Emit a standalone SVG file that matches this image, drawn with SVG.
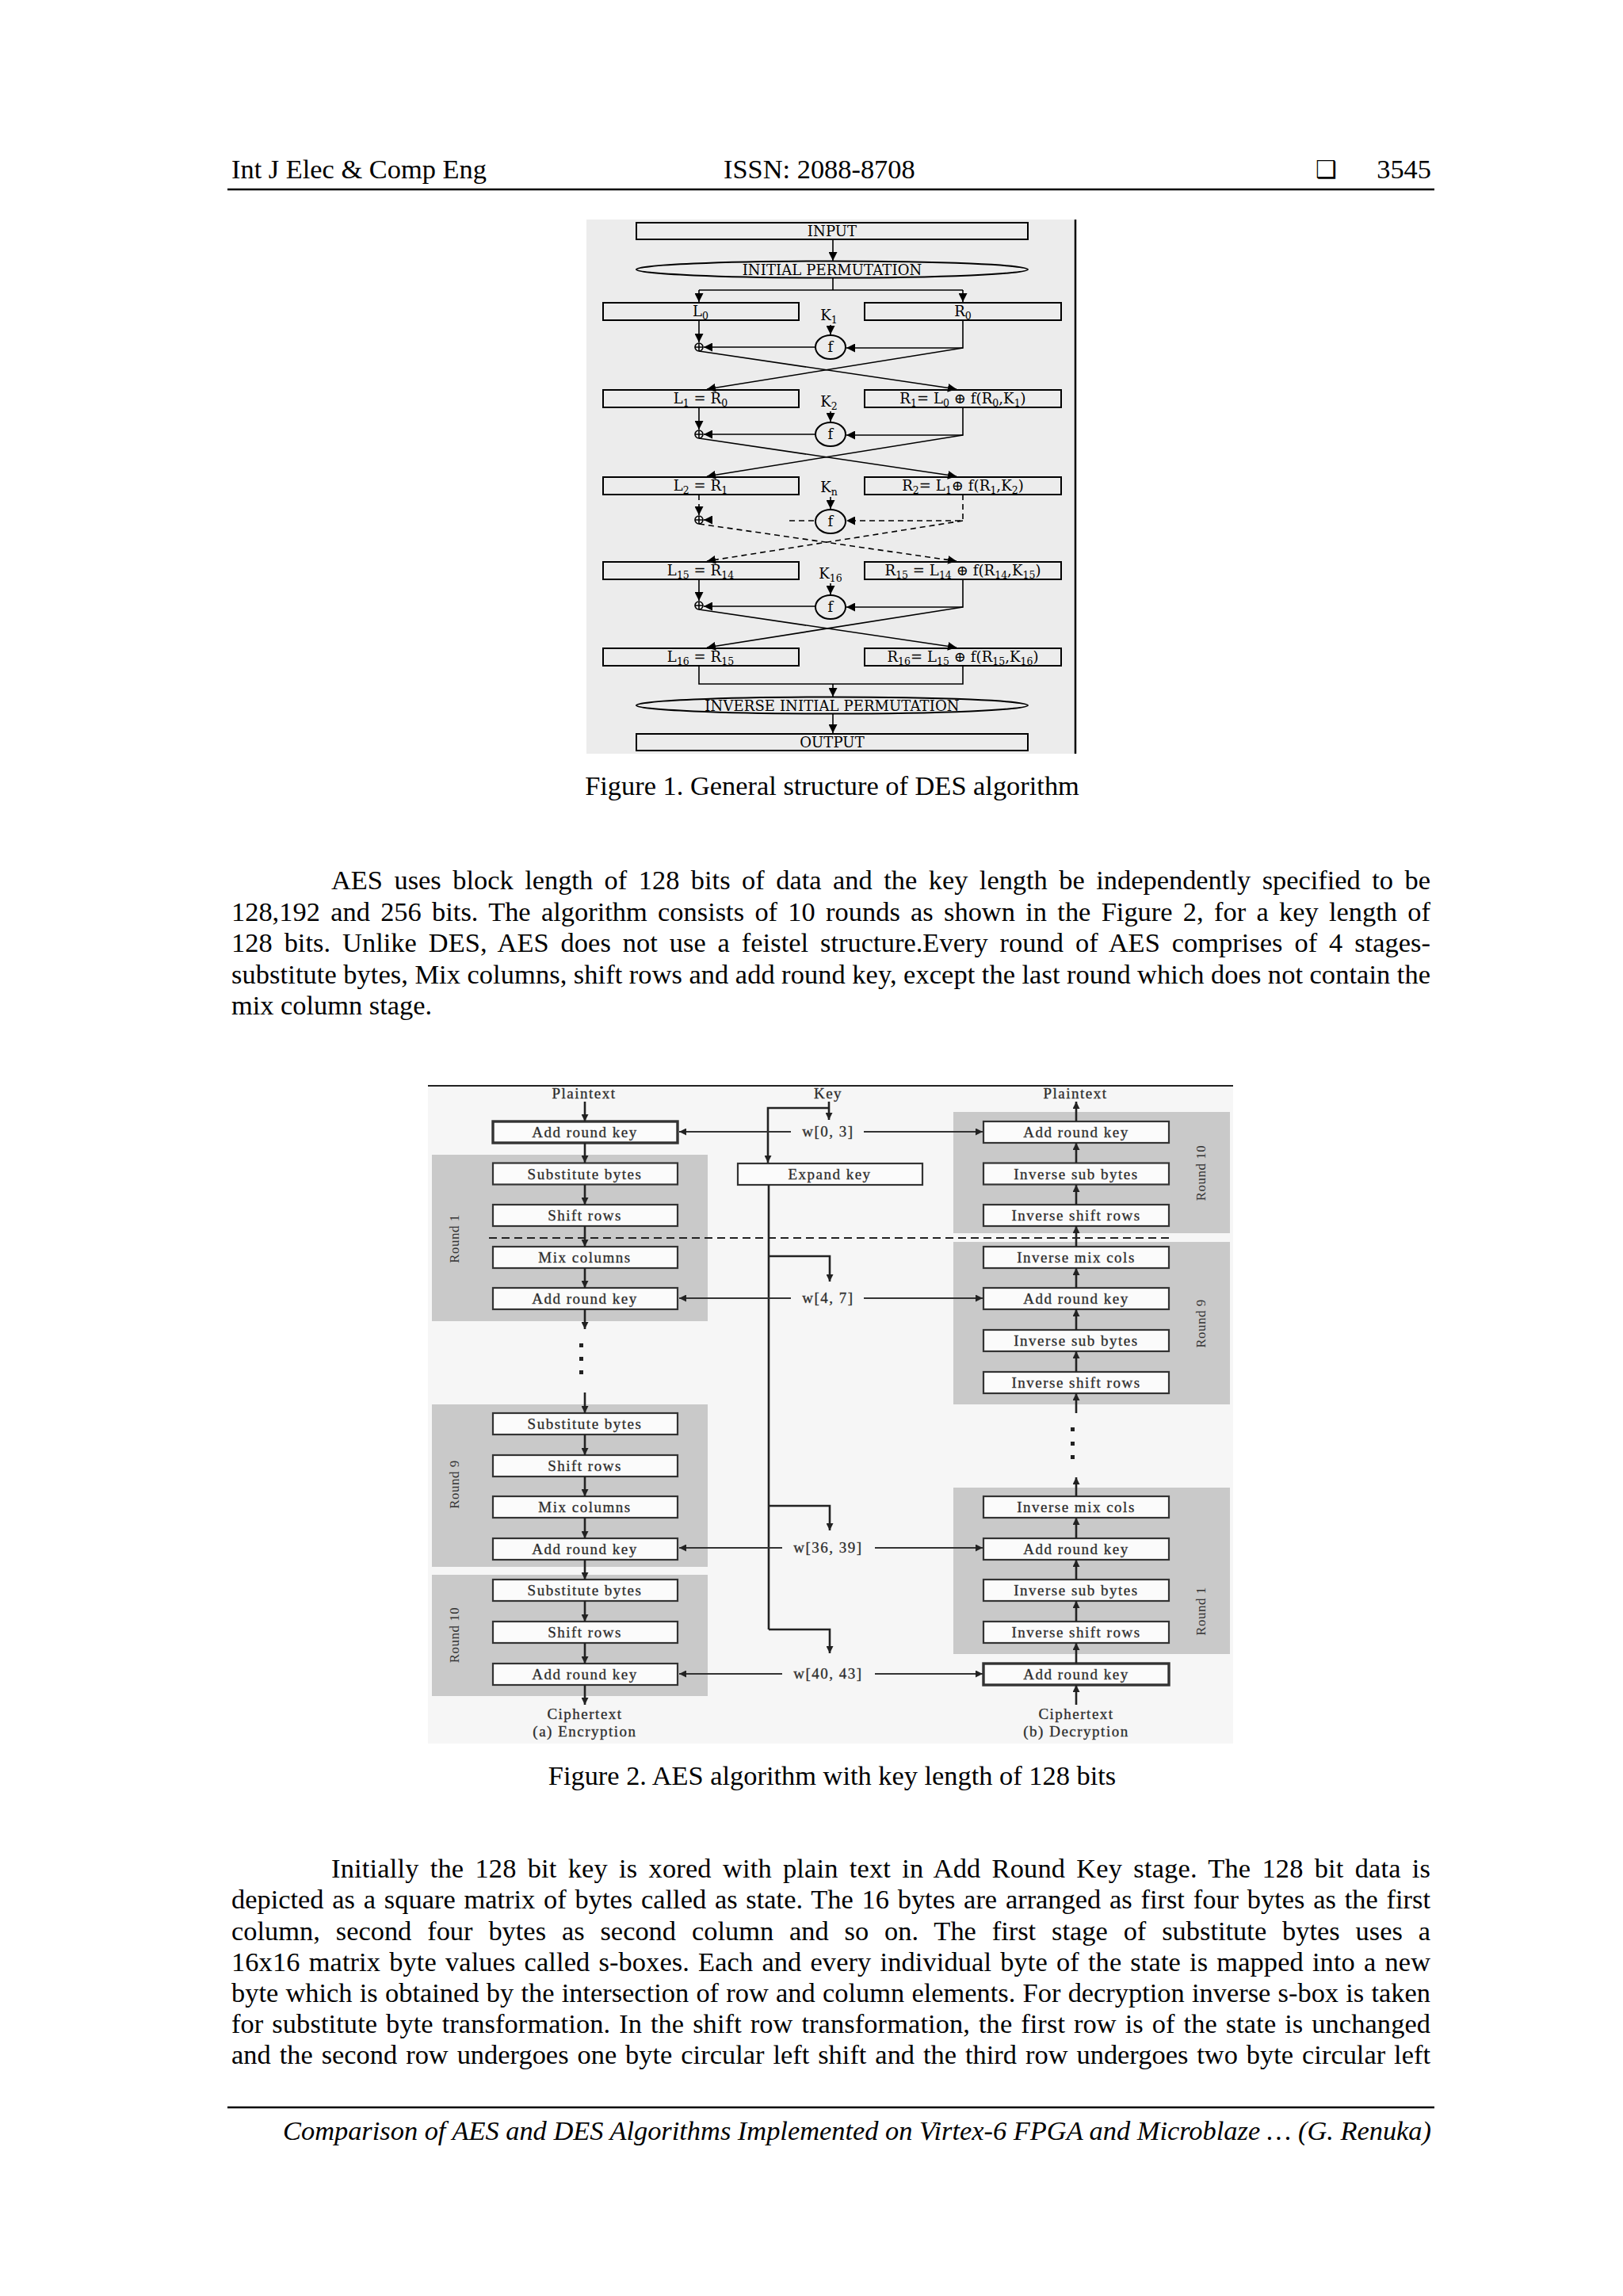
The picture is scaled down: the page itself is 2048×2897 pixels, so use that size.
<svg xmlns="http://www.w3.org/2000/svg" width="2048" height="2897" viewBox="0 0 2048 2897">
<defs>
<style>
.body{font-family:"Liberation Serif","Times New Roman",serif;font-size:34.4px;fill:#000}
.it{font-style:italic}
.f1{font-family:"DejaVu Serif",serif;font-size:18px;fill:#000;text-anchor:middle;letter-spacing:0.1px}
.sb{font-size:12.5px;letter-spacing:0}
.f2{font-family:"Liberation Serif",serif;font-size:19px;fill:#262626;text-anchor:middle;letter-spacing:1.5px;stroke:#444;stroke-width:0.35px}
.rl{font-family:"Liberation Serif",serif;font-size:17px;fill:#333;text-anchor:middle;letter-spacing:0.5px}
.box1{fill:none;stroke:#000;stroke-width:2}
.ln1{fill:none;stroke:#000;stroke-width:1.6}
.d1{stroke-dasharray:7 5}
.box2{fill:#fbfbfb;stroke:#333;stroke-width:2.2}
.thick{stroke-width:3.4}
.ln2{fill:none;stroke:#222;stroke-width:2.6}
.ln2t{fill:none;stroke:#333;stroke-width:1.8}
.gray{fill:#c9c9c9}
</style>
<marker id="a1" viewBox="0 0 10 10" refX="10" refY="5" markerWidth="11" markerHeight="11" markerUnits="userSpaceOnUse" orient="auto"><path d="M0,0L10,5L0,10z" fill="#000"/></marker>
<marker id="a2" viewBox="0 0 10 10" refX="10" refY="5" markerWidth="10" markerHeight="9" markerUnits="userSpaceOnUse" orient="auto"><path d="M0,0L10,5L0,10z" fill="#222"/></marker>
</defs>
<rect width="2048" height="2897" fill="#fff"/>

<!-- Header -->
<g id="header">
<text class="body" x="292" y="225">Int J Elec &amp; Comp Eng</text>
<text class="body" x="913" y="225">ISSN: 2088-8708</text>
<text x="1660" y="224" style="font-family:'DejaVu Sans',sans-serif;font-size:30px">❑</text>
<text class="body" x="1806" y="225" text-anchor="end">3545</text>
<line x1="287" y1="239" x2="1810" y2="239" stroke="#000" stroke-width="2.5"/>
</g>

<!-- Figure 1 -->
<g id="fig1">
<rect x="740" y="277" width="617" height="674" fill="#ececec"/>
<line x1="1357" y1="277" x2="1357" y2="951" stroke="#000" stroke-width="2.5"/>

<g id="input"><rect class="box1" x="803" y="281" width="494" height="21"/><text class="f1" x="1050" y="298">INPUT</text></g>
<g id="ip"><ellipse class="box1" cx="1050" cy="340" rx="247" ry="10.5"/><text class="f1" x="1050" y="347">INITIAL PERMUTATION</text></g>

<g id="row0">
<g id="L0"><rect class="box1" x="761" y="382" width="247" height="22"/><text class="f1" x="884" y="399">L<tspan class="sb" dy="4">0</tspan></text></g>
<g id="R0"><rect class="box1" x="1091" y="382" width="248" height="22"/><text class="f1" x="1215" y="399">R<tspan class="sb" dy="4">0</tspan></text></g>
</g>
<g id="row1">
<g id="L1"><rect class="box1" x="761" y="492" width="247" height="22"/><text class="f1" x="884" y="509">L<tspan class="sb" dy="4">1</tspan><tspan dy="-4"> = R</tspan><tspan class="sb" dy="4">0</tspan></text></g>
<g id="R1"><rect class="box1" x="1091" y="492" width="248" height="22"/><text class="f1" x="1215" y="509">R<tspan class="sb" dy="4">1</tspan><tspan dy="-4">= L</tspan><tspan class="sb" dy="4">0</tspan><tspan dy="-4"> ⊕ f(R</tspan><tspan class="sb" dy="4">0</tspan><tspan dy="-4">,K</tspan><tspan class="sb" dy="4">1</tspan><tspan dy="-4">)</tspan></text></g>
</g>
<g id="row2">
<g id="L2"><rect class="box1" x="761" y="602" width="247" height="22"/><text class="f1" x="884" y="619">L<tspan class="sb" dy="4">2</tspan><tspan dy="-4"> = R</tspan><tspan class="sb" dy="4">1</tspan></text></g>
<g id="R2"><rect class="box1" x="1091" y="602" width="248" height="22"/><text class="f1" x="1215" y="619">R<tspan class="sb" dy="4">2</tspan><tspan dy="-4">= L</tspan><tspan class="sb" dy="4">1</tspan><tspan dy="-4">⊕ f(R</tspan><tspan class="sb" dy="4">1</tspan><tspan dy="-4">,K</tspan><tspan class="sb" dy="4">2</tspan><tspan dy="-4">)</tspan></text></g>
</g>
<g id="row3">
<g id="L15"><rect class="box1" x="761" y="709" width="247" height="22"/><text class="f1" x="884" y="726">L<tspan class="sb" dy="4">15</tspan><tspan dy="-4"> = R</tspan><tspan class="sb" dy="4">14</tspan></text></g>
<g id="R15"><rect class="box1" x="1091" y="709" width="248" height="22"/><text class="f1" x="1215" y="726">R<tspan class="sb" dy="4">15</tspan><tspan dy="-4"> = L</tspan><tspan class="sb" dy="4">14</tspan><tspan dy="-4"> ⊕ f(R</tspan><tspan class="sb" dy="4">14</tspan><tspan dy="-4">,K</tspan><tspan class="sb" dy="4">15</tspan><tspan dy="-4">)</tspan></text></g>
</g>
<g id="row4">
<g id="L16"><rect class="box1" x="761" y="818" width="247" height="22"/><text class="f1" x="884" y="835">L<tspan class="sb" dy="4">16</tspan><tspan dy="-4"> = R</tspan><tspan class="sb" dy="4">15</tspan></text></g>
<g id="R16"><rect class="box1" x="1091" y="818" width="248" height="22"/><text class="f1" x="1215" y="835">R<tspan class="sb" dy="4">16</tspan><tspan dy="-4">= L</tspan><tspan class="sb" dy="4">15</tspan><tspan dy="-4"> ⊕ f(R</tspan><tspan class="sb" dy="4">15</tspan><tspan dy="-4">,K</tspan><tspan class="sb" dy="4">16</tspan><tspan dy="-4">)</tspan></text></g>
</g>

<g id="f-nodes">
<g id="f1"><ellipse class="box1" cx="1048" cy="438" rx="19" ry="15" stroke-width="1.6"/><text class="f1" x="1048" y="444">f</text><circle class="ln1" cx="882" cy="438" r="5"/><path class="ln1" d="M877,438H887M882,433V443" stroke-width="1.2"/></g>
<g id="f2"><ellipse class="box1" cx="1048" cy="548" rx="19" ry="15" stroke-width="1.6"/><text class="f1" x="1048" y="554">f</text><circle class="ln1" cx="882" cy="548" r="5"/><path class="ln1" d="M877,548H887M882,543V553" stroke-width="1.2"/></g>
<g id="f3"><ellipse class="box1" cx="1048" cy="658" rx="19" ry="15" stroke-width="1.6"/><text class="f1" x="1048" y="664">f</text><circle class="ln1" cx="882" cy="656" r="5"/><path class="ln1" d="M877,656H887M882,651V661" stroke-width="1.2"/></g>
<g id="f4"><ellipse class="box1" cx="1048" cy="766" rx="19" ry="15" stroke-width="1.6"/><text class="f1" x="1048" y="772">f</text><circle class="ln1" cx="882" cy="764" r="5"/><path class="ln1" d="M877,764H887M882,759V769" stroke-width="1.2"/></g>
</g>
<g id="k-labels">
<text class="f1" x="1046" y="404">K<tspan class="sb" dy="4">1</tspan></text>
<text class="f1" x="1046" y="513">K<tspan class="sb" dy="4">2</tspan></text>
<text class="f1" x="1046" y="621">K<tspan class="sb" dy="4">n</tspan></text>
<text class="f1" x="1048" y="730">K<tspan class="sb" dy="4">16</tspan></text>
</g>
<g id="inv-ip"><ellipse class="box1" cx="1050" cy="890" rx="247" ry="10.5"/><text class="f1" x="1050" y="897">INVERSE INITIAL PERMUTATION</text></g>
<g id="output"><rect class="box1" x="803" y="926" width="494" height="21"/><text class="f1" x="1050" y="943">OUTPUT</text></g>

<g id="fig1-connectors" class="ln1">
<path d="M1051,302V329" marker-end="url(#a1)"/>
<path d="M1051,351V366M882,366H1215"/>
<path d="M882,366V381" marker-end="url(#a1)"/>
<path d="M1215,366V381" marker-end="url(#a1)"/>
<path d="M1048,410V422" marker-end="url(#a1)"/>
<path d="M882,404V432" marker-end="url(#a1)"/>
<path d="M1215,404V439H1068" marker-end="url(#a1)"/>
<path d="M1029,438H888" marker-end="url(#a1)"/>
<path d="M882,443L1207,491" marker-end="url(#a1)"/>
<path d="M1215,439L892,491" marker-end="url(#a1)"/>
<path d="M1048,519V532" marker-end="url(#a1)"/>
<path d="M882,514V542" marker-end="url(#a1)"/>
<path d="M1215,514V549H1068" marker-end="url(#a1)"/>
<path d="M1029,548H888" marker-end="url(#a1)"/>
<path d="M882,553L1207,601" marker-end="url(#a1)"/>
<path d="M1215,549L892,601" marker-end="url(#a1)"/>
<path d="M1048,627V642" marker-end="url(#a1)"/>
<path class="d1" d="M882,624V650" marker-end="url(#a1)"/>
<path class="d1" d="M1215,624V657H1068" marker-end="url(#a1)"/>
<path class="d1" d="M996,657H1029"/>
<path d="M898,656H888" marker-end="url(#a1)"/>
<path class="d1" d="M882,661L1207,708" marker-end="url(#a1)"/>
<path class="d1" d="M1215,657L892,708" marker-end="url(#a1)"/>
<path d="M1048,736V750" marker-end="url(#a1)"/>
<path d="M882,731V758" marker-end="url(#a1)"/>
<path d="M1215,731V766H1068" marker-end="url(#a1)"/>
<path d="M1029,765H888" marker-end="url(#a1)"/>
<path d="M882,769L1207,817" marker-end="url(#a1)"/>
<path d="M1215,766L892,817" marker-end="url(#a1)"/>
<path d="M882,840V863H1215V840"/>
<path d="M1051,863V879" marker-end="url(#a1)"/>
<path d="M1051,901V925" marker-end="url(#a1)"/>
</g>
</g>

<text class="body" x="1050" y="1003" text-anchor="middle">Figure 1. General structure of DES algorithm</text>

<g id="para1" class="body">
<text x="418" y="1122" word-spacing="5.9" textLength="1387" lengthAdjust="spacing">AES uses block length of 128 bits of data and the key length be independently specified to be</text>
<text x="292" y="1162" word-spacing="4.7" textLength="1513" lengthAdjust="spacing">128,192 and 256 bits. The algorithm consists of 10 rounds as shown in the Figure 2, for a key length of</text>
<text x="292" y="1201" word-spacing="6.27" textLength="1513" lengthAdjust="spacing">128 bits. Unlike DES, AES does not use a feistel structure.Every round of AES comprises of 4 stages-</text>
<text x="292" y="1241" word-spacing="-0.33" textLength="1513" lengthAdjust="spacing">substitute bytes, Mix columns, shift rows and add round key, except the last round which does not contain the</text>
<text x="292" y="1280">mix column stage.</text>
</g>

<!-- Figure 2 -->
<g id="fig2">
<rect x="540" y="1370" width="1016" height="830" fill="#f6f6f6"/>
<line x1="540" y1="1370" x2="1556" y2="1370" stroke="#222" stroke-width="2"/>

<g id="rounds-bg">
<rect class="gray" x="545" y="1457" width="348" height="210"/>
<rect class="gray" x="545" y="1772" width="348" height="205"/>
<rect class="gray" x="545" y="1987" width="348" height="153"/>
<rect class="gray" x="1203" y="1403" width="349" height="153"/>
<rect class="gray" x="1203" y="1567" width="349" height="205"/>
<rect class="gray" x="1203" y="1877" width="349" height="210"/>
<text class="rl" transform="translate(579,1563) rotate(-90)">Round 1</text>
<text class="rl" transform="translate(579,1873) rotate(-90)">Round 9</text>
<text class="rl" transform="translate(579,2063) rotate(-90)">Round 10</text>
<text class="rl" transform="translate(1521,1480) rotate(-90)">Round 10</text>
<text class="rl" transform="translate(1521,1670) rotate(-90)">Round 9</text>
<text class="rl" transform="translate(1521,2033) rotate(-90)">Round 1</text>
</g>

<g id="labels2">
<text class="f2" x="737" y="1386">Plaintext</text>
<text class="f2" x="1045" y="1386">Key</text>
<text class="f2" x="1357" y="1386">Plaintext</text>
<text class="f2" x="738" y="2169">Ciphertext</text>
<text class="f2" x="738" y="2191">(a) Encryption</text>
<text class="f2" x="1358" y="2169">Ciphertext</text>
<text class="f2" x="1358" y="2191">(b) Decryption</text>
<text class="f2" x="1045" y="1434">w[0, 3]</text>
<text class="f2" x="1045" y="1644">w[4, 7]</text>
<text class="f2" x="1045" y="1959">w[36, 39]</text>
<text class="f2" x="1045" y="2118">w[40, 43]</text>
</g>

<g id="enc">
<g id="e0"><rect class="box2 thick" x="622" y="1415" width="233" height="27"/><text class="f2" x="738" y="1435">Add round key</text></g>
<g id="e1"><rect class="box2" x="622" y="1467.5" width="233" height="27"/><text class="f2" x="738" y="1487.5">Substitute bytes</text></g>
<g id="e2"><rect class="box2" x="622" y="1520" width="233" height="27"/><text class="f2" x="738" y="1540">Shift rows</text></g>
<g id="e3"><rect class="box2" x="622" y="1573" width="233" height="27"/><text class="f2" x="738" y="1593">Mix columns</text></g>
<g id="e4"><rect class="box2" x="622" y="1625" width="233" height="27"/><text class="f2" x="738" y="1645">Add round key</text></g>
<g id="e7"><rect class="box2" x="622" y="1783" width="233" height="27"/><text class="f2" x="738" y="1803">Substitute bytes</text></g>
<g id="e8"><rect class="box2" x="622" y="1836" width="233" height="27"/><text class="f2" x="738" y="1856">Shift rows</text></g>
<g id="e9"><rect class="box2" x="622" y="1888" width="233" height="27"/><text class="f2" x="738" y="1908">Mix columns</text></g>
<g id="e10"><rect class="box2" x="622" y="1941" width="233" height="27"/><text class="f2" x="738" y="1961">Add round key</text></g>
<g id="e11"><rect class="box2" x="622" y="1993" width="233" height="27"/><text class="f2" x="738" y="2013">Substitute bytes</text></g>
<g id="e12"><rect class="box2" x="622" y="2046" width="233" height="27"/><text class="f2" x="738" y="2066">Shift rows</text></g>
<g id="e13"><rect class="box2" x="622" y="2099" width="233" height="27"/><text class="f2" x="738" y="2119">Add round key</text></g>
</g>

<g id="dec">
<g id="d0"><rect class="box2" x="1241" y="1415" width="234" height="27"/><text class="f2" x="1358" y="1435">Add round key</text></g>
<g id="d1"><rect class="box2" x="1241" y="1467.5" width="234" height="27"/><text class="f2" x="1358" y="1487.5">Inverse sub bytes</text></g>
<g id="d2"><rect class="box2" x="1241" y="1520" width="234" height="27"/><text class="f2" x="1358" y="1540">Inverse shift rows</text></g>
<g id="d3"><rect class="box2" x="1241" y="1573" width="234" height="27"/><text class="f2" x="1358" y="1593">Inverse mix cols</text></g>
<g id="d4"><rect class="box2" x="1241" y="1625" width="234" height="27"/><text class="f2" x="1358" y="1645">Add round key</text></g>
<g id="d5"><rect class="box2" x="1241" y="1678" width="234" height="27"/><text class="f2" x="1358" y="1698">Inverse sub bytes</text></g>
<g id="d6"><rect class="box2" x="1241" y="1731" width="234" height="27"/><text class="f2" x="1358" y="1751">Inverse shift rows</text></g>
<g id="d9"><rect class="box2" x="1241" y="1888" width="234" height="27"/><text class="f2" x="1358" y="1908">Inverse mix cols</text></g>
<g id="d10"><rect class="box2" x="1241" y="1941" width="234" height="27"/><text class="f2" x="1358" y="1961">Add round key</text></g>
<g id="d11"><rect class="box2" x="1241" y="1993" width="234" height="27"/><text class="f2" x="1358" y="2013">Inverse sub bytes</text></g>
<g id="d12"><rect class="box2" x="1241" y="2046" width="234" height="27"/><text class="f2" x="1358" y="2066">Inverse shift rows</text></g>
<g id="d13"><rect class="box2 thick" x="1241" y="2099" width="234" height="27"/><text class="f2" x="1358" y="2119">Add round key</text></g>
</g>

<g id="expand"><rect class="box2" x="931" y="1468" width="233" height="27"/><text class="f2" x="1047" y="1488">Expand key</text></g>

<g id="fig2-connectors">
<line x1="617" y1="1562" x2="1475" y2="1562" stroke="#222" stroke-width="2" stroke-dasharray="10 6"/>
<g class="ln2">
<path d="M738,1390V1415" marker-end="url(#a2)"/>
<path d="M738,1442V1467" marker-end="url(#a2)"/>
<path d="M738,1495V1520" marker-end="url(#a2)"/>
<path d="M738,1547V1573" marker-end="url(#a2)"/>
<path d="M738,1600V1625" marker-end="url(#a2)"/>
<path d="M738,1652V1677" marker-end="url(#a2)"/>
<path d="M738,1757V1783" marker-end="url(#a2)"/>
<path d="M738,1810V1836" marker-end="url(#a2)"/>
<path d="M738,1863V1888" marker-end="url(#a2)"/>
<path d="M738,1915V1941" marker-end="url(#a2)"/>
<path d="M738,1968V1993" marker-end="url(#a2)"/>
<path d="M738,2020V2046" marker-end="url(#a2)"/>
<path d="M738,2073V2099" marker-end="url(#a2)"/>
<path d="M738,2126V2151" marker-end="url(#a2)"/>
<path d="M1358,1415V1390" marker-end="url(#a2)"/>
<path d="M1358,1467V1442" marker-end="url(#a2)"/>
<path d="M1358,1520V1495" marker-end="url(#a2)"/>
<path d="M1358,1573V1547" marker-end="url(#a2)"/>
<path d="M1358,1625V1600" marker-end="url(#a2)"/>
<path d="M1358,1678V1652" marker-end="url(#a2)"/>
<path d="M1358,1731V1705" marker-end="url(#a2)"/>
<path d="M1358,1783V1758" marker-end="url(#a2)"/>
<path d="M1358,1888V1864" marker-end="url(#a2)"/>
<path d="M1358,1941V1915" marker-end="url(#a2)"/>
<path d="M1358,1993V1968" marker-end="url(#a2)"/>
<path d="M1358,2046V2020" marker-end="url(#a2)"/>
<path d="M1358,2099V2073" marker-end="url(#a2)"/>
<path d="M1358,2151V2126" marker-end="url(#a2)"/>
<path d="M1046,1390V1413" marker-end="url(#a2)"/>
<path d="M1046,1398H969V1467" marker-end="url(#a2)"/>
<path d="M970,1495V2056"/>
<path d="M970,1585H1047V1617" marker-end="url(#a2)"/>
<path d="M970,1900H1047V1931" marker-end="url(#a2)"/>
<path d="M970,2056H1047V2086" marker-end="url(#a2)"/>
</g>
<g class="ln2t">
<path d="M998,1428H857" marker-end="url(#a2)"/>
<path d="M1090,1428H1240" marker-end="url(#a2)"/>
<path d="M998,1638H857" marker-end="url(#a2)"/>
<path d="M1090,1638H1240" marker-end="url(#a2)"/>
<path d="M987,1953H857" marker-end="url(#a2)"/>
<path d="M1104,1953H1240" marker-end="url(#a2)"/>
<path d="M987,2112H857" marker-end="url(#a2)"/>
<path d="M1104,2112H1240" marker-end="url(#a2)"/>
</g>
<g fill="#222">
<rect x="731" y="1695" width="5" height="5"/><rect x="731" y="1712" width="5" height="5"/><rect x="731" y="1729" width="5" height="5"/>
<rect x="1351" y="1801" width="5" height="5"/><rect x="1351" y="1819" width="5" height="5"/><rect x="1351" y="1836" width="5" height="5"/>
</g>
</g>
</g>

<text class="body" x="1050" y="2252" text-anchor="middle">Figure 2. AES algorithm with key length of 128 bits</text>

<g id="para2" class="body">
<text x="418" y="2369" word-spacing="5.38" textLength="1387" lengthAdjust="spacing">Initially the 128 bit key is xored with plain text in Add Round Key stage. The 128 bit data is</text>
<text x="292" y="2408" word-spacing="2.17" textLength="1513" lengthAdjust="spacing">depicted as a square matrix of bytes called as state. The 16 bytes are arranged as first four bytes as the first</text>
<text x="292" y="2448" word-spacing="11.27" textLength="1513" lengthAdjust="spacing">column, second four bytes as second column and so on. The first stage of substitute bytes uses a</text>
<text x="292" y="2487" word-spacing="2.39" textLength="1513" lengthAdjust="spacing">16x16 matrix byte values called s-boxes. Each and every individual byte of the state is mapped into a new</text>
<text x="292" y="2526" word-spacing="0.65" textLength="1513" lengthAdjust="spacing">byte which is obtained by the intersection of row and column elements. For decryption inverse s-box is taken</text>
<text x="292" y="2565" word-spacing="2.2" textLength="1513" lengthAdjust="spacing">for substitute byte transformation. In the shift row transformation, the first row is of the state is unchanged</text>
<text x="292" y="2604" word-spacing="2.32" textLength="1513" lengthAdjust="spacing">and the second row undergoes one byte circular left shift and the third row undergoes two byte circular left</text>
</g>

<g id="footer">
<line x1="287" y1="2659" x2="1810" y2="2659" stroke="#000" stroke-width="2.5"/>
<text class="body it" x="1806" y="2700" text-anchor="end">Comparison of AES and DES Algorithms Implemented on Virtex-6 FPGA and Microblaze … (G. Renuka)</text>
</g>
</svg>
